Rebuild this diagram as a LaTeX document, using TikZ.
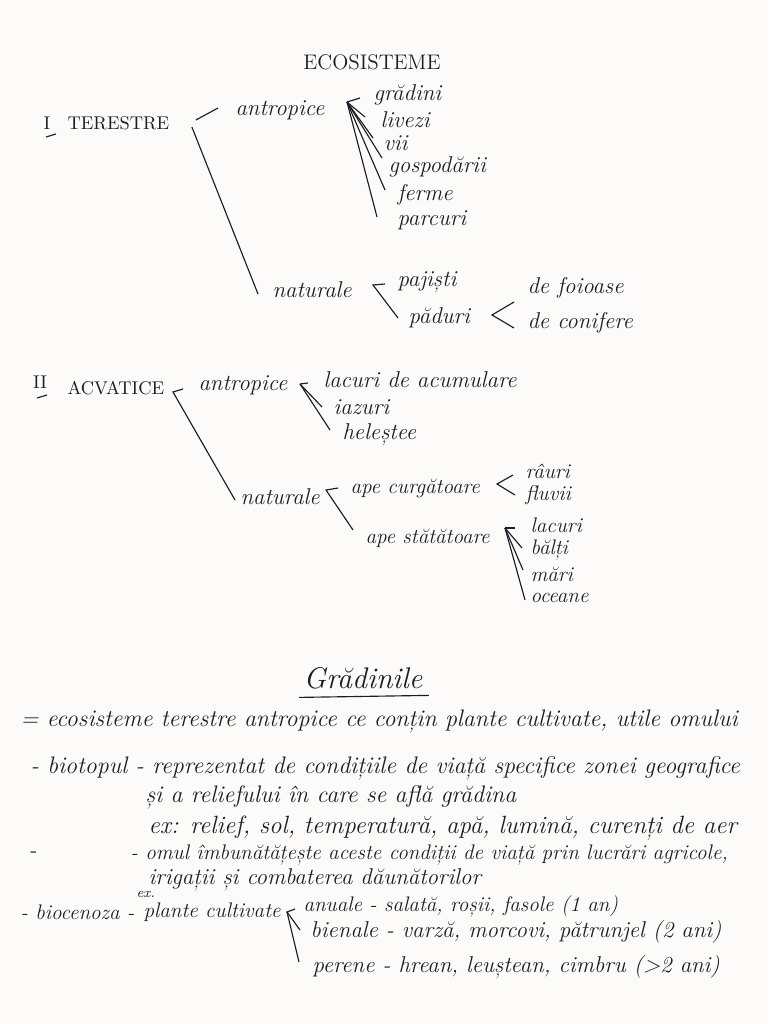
\documentclass[tikz,border=0pt]{standalone}
\usepackage{fontspec}
\usepackage{xcolor}
\usepackage{tikz}
\usetikzlibrary{positioning}
\definecolor{ink}{RGB}{28,28,38}
\definecolor{paper}{RGB}{253,251,250}

\begin{document}
\begin{tikzpicture}[x=0.02cm, y=-0.02cm, line width=0.65pt, ink,
  hand/.style={anchor=west, inner sep=0pt, font=\itshape\fontsize{13}{15}\selectfont},
  handsm/.style={hand, font=\itshape\fontsize{12}{14}\selectfont},
  handlg/.style={hand, font=\itshape\fontsize{13.6}{16}\selectfont},
  handcaps/.style={anchor=west, inner sep=0pt, font=\fontsize{10.5}{12}\selectfont},
  handtitle/.style={inner sep=0pt, font=\itshape\fontsize{17}{19}\selectfont},
  exmark/.style={inner sep=0pt, font=\itshape\fontsize{8}{9}\selectfont}]
\fill[paper] (0,0) rectangle (768,1024);
\useasboundingbox (0,0) rectangle (768,1024);

\node[handcaps, anchor=center, font=\fontsize{12}{14}\selectfont] (ecos) at (372,62) {ECOSISTEME};

% I terestre
\node[handcaps, anchor=center] (numI) at (47,123) {I};
\draw ([shift={(-1,14)}]numI.center) -- ([shift={(9,11)}]numI.center);
\node[handcaps] (ter) at (67,123) {TERESTRE};
\node[hand] (antA) at (235,110) {antropice};
\node[hand] (natA) at (272,290) {naturale};
\draw ([shift={(26,-3)}]ter.east) -- ([shift={(-17,-2)}]antA.west);
\draw ([shift={(22,4)}]ter.east) -- ([shift={(-14,4)}]natA.west);

\coordinate (fanA) at (347,102);
\foreach \n/\x/\y/\t/\dx/\dy in {gradini/373/95/grădini/-13/3, livezi/380/120/livezi/-15/-3,
    vii/383/143/vii/-10/-5, gosp/388/167/gospodării/-6/-9,
    ferme/397/195/ferme/-12/-5, parcuri/397/220/parcuri/-20/-3} {
  \node[hand] (\n) at (\x,\y) {\t};
  \draw (fanA) -- ([shift={(\dx,\dy)}]\n.west);
}

\coordinate (brN) at (373,285);
\node[hand] (pajisti) at (397,282) {pajiști};
\node[hand] (paduri) at (408,318) {păduri};
\draw ([shift={(-12,2)}]pajisti.west) -- (brN) -- ([shift={(-10,0)}]paduri.west);
\coordinate (ltP) at (492,315);
\node[hand] (foioase) at (527,288) {de foioase};
\node[hand] (conifere) at (527,323) {de conifere};
\draw ([shift={(-13,14)}]foioase.west) -- (ltP) -- ([shift={(-13,5)}]conifere.west);

% II acvatice
\node[handcaps, anchor=center] (numII) at (40,382) {II};
\draw ([shift={(-3,16)}]numII.center) -- ([shift={(7,13)}]numII.center);
\node[handcaps] (acv) at (67,388) {ACVATICE};
\node[hand] (antB) at (198,385) {antropice};
\node[hand] (natB) at (240,497) {naturale};
\coordinate (brA) at (173,392);
\draw ([shift={(-15,4)}]antB.west) -- (brA) -- ([shift={(-5,3)}]natB.west);

\coordinate (fanB) at (300,384);
\foreach \n/\x/\y/\t/\dx/\dy in {lacAcc/323/380/lacuri de acumulare/-15/3,
    iazuri/333/407/iazuri/-11/0, helestee/342/435/heleștee/-12/-5} {
  \node[hand] (\n) at (\x,\y) {\t};
  \draw (fanB) -- ([shift={(\dx,\dy)}]\n.west);
}

\coordinate (brC) at (326,490);
\node[handsm] (curg) at (350,488) {ape curgătoare};
\node[handsm] (stat) at (365,538) {ape stătătoare};
\draw ([shift={(-12,0)}]curg.west) -- (brC) -- ([shift={(-12,-8)}]stat.west);
\coordinate (ltC) at (497,484);
\node[handsm] (rauri) at (525,471) {râuri};
\node[handsm] (fluvii) at (525,495) {fluvii};
\draw ([shift={(-12,4)}]rauri.west) -- (ltC) -- ([shift={(-10,0)}]fluvii.west);

\coordinate (fanC) at (505,528);
\foreach \n/\x/\y/\t/\dx/\dy in {lacuri/530/525/lacuri/-15/3, balti/530/550/bălți/-8/-2,
    mari/530/574/mări/-7/-4, oceane/530/598/oceane/-5/2} {
  \node[handsm] (\n) at (\x,\y) {\t};
  \draw (fanC) -- ([shift={(\dx,\dy)}]\n.west);
}

% gradinile
\node[handtitle] (grad) at (363,678) {Grădinile};
\draw ([shift={(-4,8)}]grad.south west) -- ([shift={(6,6)}]grad.south east);

\node[handlg] (def) at (20,722) {= ecosisteme terestre antropice ce conțin plante cultivate, utile omului};
\node[handlg] (biot) at (30,768) {- biotopul - reprezentat de condițiile de viață specifice zonei geografice};
\node[handlg] (relief) at (145,797) {și a reliefului în care se află grădina};
\node[handlg, font=\itshape\fontsize{14.2}{16}\selectfont] (exBiot) at (148,828) {ex: relief, sol, temperatură, apă, lumină, curenți de aer};
\node[hand] (dashO) at (28,855) {-};
\node[handsm] (omul) at (130,855) {- omul îmbunătățește aceste condiții de viață prin lucrări agricole,};
\node[hand] (irig) at (148,880) {irigații și combaterea dăunătorilor};

\node[handsm] (bioc) at (20,912) {- biocenoza -};
\node[handsm] (plc) at (143,912) {plante cultivate};
\node[exmark, above right=2pt and -4pt of plc.north west] (exs) {ex.};

\coordinate (brP) at (287,912);
\node[handsm] (anuale) at (303,907) {anuale - salată, roșii, fasole (1 an)};
\node[hand] (bienale) at (310,932) {bienale - varză, morcovi, pătrunjel (2 ani)};
\node[hand] (perene) at (312,967) {perene - hrean, leuștean, cimbru (>2 ani)};
\draw ([shift={(-8,2)}]anuale.west) -- (brP) -- ([shift={(-10,-2)}]bienale.west);
\draw (brP) -- ([shift={(-13,-5)}]perene.west);
\end{tikzpicture}
\end{document}
